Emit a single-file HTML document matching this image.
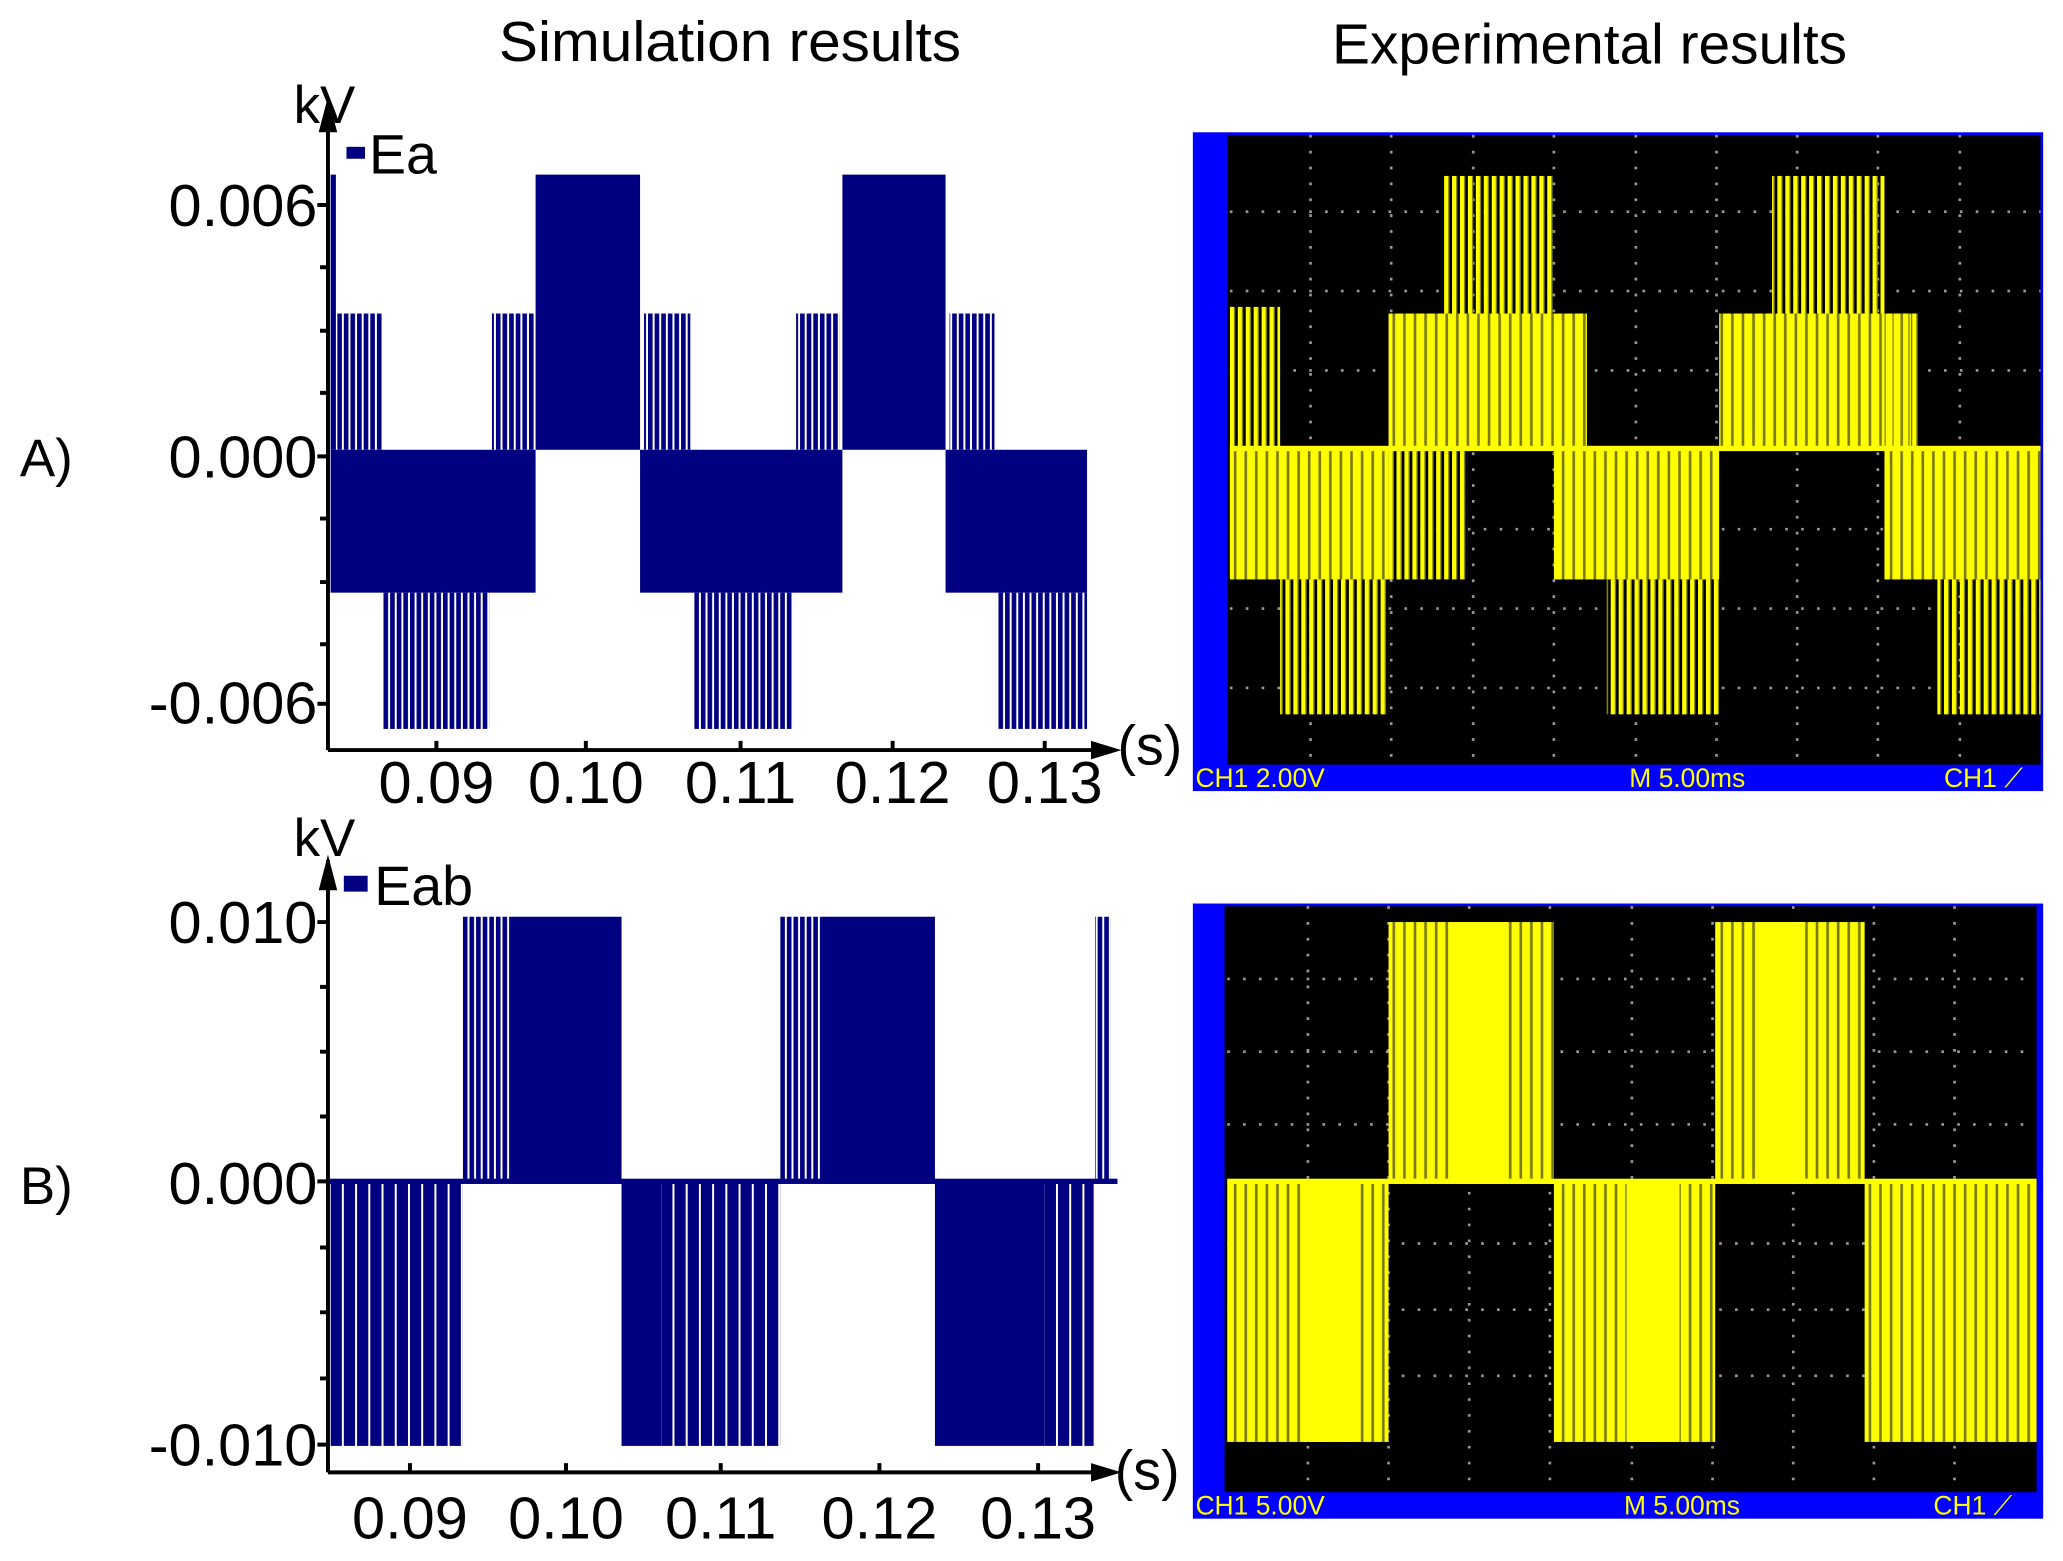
<!DOCTYPE html>
<html><head><meta charset="utf-8"><style>
html,body{margin:0;padding:0;background:#fff;overflow:hidden}
svg{display:block}
text{font-family:"Liberation Sans",Arial,sans-serif}
</style></head><body>
<svg width="2063" height="1561" viewBox="0 0 1560 1180" preserveAspectRatio="none" xmlns="http://www.w3.org/2000/svg">
<defs>
<pattern id="ns" width="5" height="10" patternUnits="userSpaceOnUse"><rect width="3.5" height="10" fill="#000080"/></pattern>
<pattern id="nd" width="10" height="10" patternUnits="userSpaceOnUse"><rect width="8.5" height="10" fill="#000080"/></pattern>
<pattern id="ys" width="6" height="10" patternUnits="userSpaceOnUse"><rect width="3" height="10" fill="#ffff00"/><rect x="3" width="1" height="10" fill="#8a8a00"/></pattern>
<pattern id="yd" width="8" height="10" patternUnits="userSpaceOnUse"><rect width="8" height="10" fill="#ffff00"/><rect x="5" width="2" height="10" fill="#7a7a10"/></pattern>
</defs>
<text x="552" y="46" font-size="43" text-anchor="middle" transform="translate(552 0) scale(1.03 1) translate(-552 0)">Simulation results</text>
<text x="1202" y="48" font-size="43" text-anchor="middle">Experimental results</text>
<text x="15" y="360" font-size="40">A)</text>
<text x="15" y="910" font-size="40">B)</text>

<!-- Sim A -->
<g fill="#000080">
<rect x="250" y="340" width="155" height="108"/>
<rect x="255" y="237" width="35" height="103" fill="url(#ns)"/>
<rect x="372" y="237" width="33" height="103" fill="url(#ns)"/>
<rect x="487" y="237" width="35" height="103" fill="url(#ns)"/>
<rect x="602" y="237" width="33" height="103" fill="url(#ns)"/>
<rect x="718" y="237" width="34" height="103" fill="url(#ns)"/>
<rect x="290" y="448" width="80" height="103" fill="url(#ns)"/>
<rect x="525" y="448" width="75" height="103" fill="url(#ns)"/>
<rect x="755" y="448" width="67" height="103" fill="url(#ns)"/>
<rect x="405" y="132" width="79" height="208"/>
<rect x="637" y="132" width="78" height="208"/>
<rect x="484" y="340" width="153" height="108"/>
<rect x="715" y="340" width="107" height="108"/>
<rect x="250" y="132" width="4" height="208"/>
</g>
<g stroke="#000" stroke-width="3" fill="none">
<line x1="248" y1="80" x2="248" y2="567"/>
<line x1="248" y1="567" x2="830" y2="567"/>
<path d="M248 155h-8M248 345h-8M248 532h-8M248 202h-6M248 250h-6M248 297h-6M248 392h-6M248 440h-6M248 487h-6M330 567v-7M443 567v-7M560 567v-7M675 567v-7M790 567v-7"/>
</g>
<path d="M241 100 L248 73 L255 100Z M825 560 L848 567 L825 574Z" fill="#000"/>
<g font-size="45" text-anchor="end">
<text x="240" y="171">0.006</text><text x="240" y="361">0.000</text><text x="240" y="547">-0.006</text>
</g>
<g font-size="45" text-anchor="middle">
<text x="330" y="607">0.09</text><text x="443" y="607">0.10</text><text x="560" y="607">0.11</text><text x="675" y="607">0.12</text><text x="790" y="607">0.13</text>
</g>
<text x="222" y="93" font-size="40">kV</text>
<rect x="262" y="111" width="14" height="9" fill="#000080"/>
<text x="279" y="131" font-size="42">Ea</text>
<text x="845" y="578" font-size="42">(s)</text>

<!-- Sim B -->
<g fill="#000080">
<rect x="250" y="893" width="100" height="200" fill="url(#nd)"/>
<rect x="350" y="693" width="35" height="200" fill="url(#ns)"/>
<rect x="385" y="693" width="85" height="200"/>
<rect x="470" y="893" width="30" height="200"/>
<rect x="500" y="893" width="90" height="200" fill="url(#nd)"/>
<rect x="590" y="693" width="30" height="200" fill="url(#ns)"/>
<rect x="620" y="693" width="87" height="200"/>
<rect x="707" y="893" width="83" height="200"/>
<rect x="790" y="893" width="37" height="200" fill="url(#nd)"/>
<rect x="828" y="693" width="12" height="200" fill="url(#ns)"/>
<rect x="248" y="891" width="597" height="4"/>
</g>
<g stroke="#000" stroke-width="3" fill="none">
<line x1="248" y1="650" x2="248" y2="1113"/>
<line x1="248" y1="1113" x2="830" y2="1113"/>
<path d="M248 697h-8M248 893h-8M248 1092h-8M248 746h-6M248 795h-6M248 844h-6M248 943h-6M248 992h-6M248 1042h-6M310 1113v-7M428 1113v-7M545 1113v-7M665 1113v-7M785 1113v-7"/>
</g>
<path d="M241 673 L248 646 L255 673Z M825 1106 L848 1113 L825 1120Z" fill="#000"/>
<g font-size="45" text-anchor="end">
<text x="240" y="713">0.010</text><text x="240" y="910">0.000</text><text x="240" y="1108">-0.010</text>
</g>
<g font-size="45" text-anchor="middle">
<text x="310" y="1163">0.09</text><text x="428" y="1163">0.10</text><text x="545" y="1163">0.11</text><text x="665" y="1163">0.12</text><text x="785" y="1163">0.13</text>
</g>
<text x="222" y="647" font-size="40">kV</text>
<rect x="260" y="662" width="18" height="12" fill="#000080"/>
<text x="283" y="684" font-size="42">Eab</text>
<text x="843" y="1126" font-size="42">(s)</text>

<!-- Scope A -->
<rect x="902" y="100" width="643" height="498" fill="#0000ff"/>
<rect x="928" y="102" width="615" height="476" fill="#000"/>
<g stroke="#999" stroke-width="2" stroke-dasharray="2 10">
<path d="M991 102v476M1052 102v476M1114 102v476M1175 102v476M1237 102v476M1298 102v476M1359 102v476M1420 102v476M1482 102v476"/>
<path d="M930 160h613M930 220h613M930 280h613M930 400h613M930 460h613M930 520h613"/>
</g>
<g>
<rect x="930" y="340" width="120" height="98" fill="url(#yd)"/>
<rect x="930" y="232" width="38" height="108" fill="url(#ys)"/>
<rect x="968" y="438" width="82" height="102" fill="url(#ys)"/>
<rect x="1050" y="237" width="150" height="103" fill="url(#yd)"/>
<rect x="1090" y="133" width="85" height="104" fill="url(#ys)"/>
<rect x="1050" y="340" width="60" height="98" fill="url(#ys)"/>
<rect x="1175" y="340" width="125" height="98" fill="url(#yd)"/>
<rect x="1215" y="438" width="85" height="102" fill="url(#ys)"/>
<rect x="1300" y="237" width="150" height="103" fill="url(#yd)"/>
<rect x="1340" y="133" width="85" height="104" fill="url(#ys)"/>
<rect x="1425" y="340" width="118" height="98" fill="url(#yd)"/>
<rect x="1465" y="438" width="78" height="102" fill="url(#ys)"/>
<rect x="1425" y="237" width="25" height="103" fill="url(#ys)"/>
<rect x="930" y="337" width="613" height="4" fill="#ffff00"/>
</g>
<g font-size="20" fill="#ffff00" font-family="Liberation Sans Narrow,Liberation Sans,sans-serif">
<text x="904" y="595">CH1  2.00V</text><text x="1232" y="595">M 5.00ms</text><text x="1470" y="595">CH1 ⟋</text>
</g>

<!-- Scope B -->
<rect x="902" y="683" width="643" height="465" fill="#0000ff"/>
<rect x="926" y="685" width="614" height="443" fill="#000"/>
<g stroke="#999" stroke-width="2" stroke-dasharray="2 10">
<path d="M989 685v443M1050 685v443M1111 685v443M1172 685v443M1234 685v443M1295 685v443M1356 685v443M1417 685v443M1478 685v443"/>
<path d="M928 740h612M928 795h612M928 850h612M928 940h612M928 990h612M928 1040h612"/>
</g>
<g>
<rect x="928" y="893" width="122" height="197" fill="url(#yd)"/>
<rect x="985" y="893" width="40" height="197" fill="#ffff00"/>
<rect x="1050" y="697" width="125" height="196" fill="url(#yd)"/>
<rect x="1100" y="697" width="40" height="196" fill="#ffff00"/>
<rect x="1175" y="893" width="122" height="197" fill="url(#yd)"/>
<rect x="1230" y="893" width="40" height="197" fill="#ffff00"/>
<rect x="1297" y="697" width="113" height="196" fill="url(#yd)"/>
<rect x="1330" y="697" width="35" height="196" fill="#ffff00"/>
<rect x="1410" y="893" width="130" height="197" fill="url(#yd)"/>
<rect x="928" y="891" width="612" height="4" fill="#ffff00"/>
</g>
<g font-size="20" fill="#ffff00" font-family="Liberation Sans Narrow,Liberation Sans,sans-serif">
<text x="904" y="1145">CH1  5.00V</text><text x="1228" y="1145">M 5.00ms</text><text x="1462" y="1145">CH1 ⟋</text>
</g>
</svg>
</body></html>
